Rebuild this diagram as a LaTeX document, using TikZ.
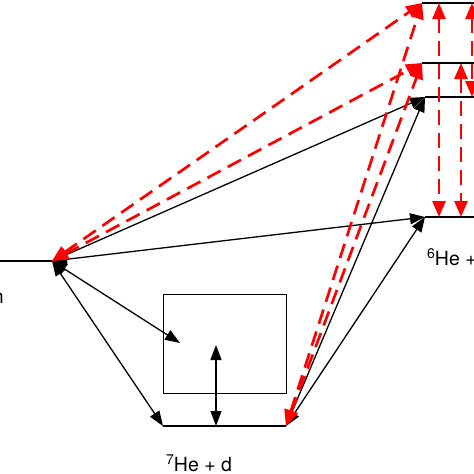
\documentclass[tikz,border=0pt]{standalone}
\usepackage{fontspec}
\setmainfont{TeX Gyre Heros}
\usetikzlibrary{arrows.meta}
\newcommand{\isot}[1]{{\fontsize{14}{14}\selectfont\raisebox{7pt}{#1}}}
\begin{document}
\begin{tikzpicture}[x=1pt,y=-1pt,
  lev/.style={line width=1.4pt},
  thicklev/.style={line width=2.4pt},
  blk/.style={line width=1.3pt,{Triangle[length=15pt,width=11pt]}-{Triangle[length=15pt,width=11pt]}},
  redarr/.style={draw=red,line width=2.7pt,dash pattern=on 15pt off 8pt,{Triangle[length=16pt,width=13pt]}-{Triangle[length=16pt,width=13pt]}},
  lbl/.style={font=\fontsize{19.5}{20}\selectfont,inner sep=0pt}]
\useasboundingbox (0,0) rectangle (474,474);
\clip (0,0) rectangle (474,474);
% levels
\coordinate (L0) at (-5,261);
\coordinate (L) at (52,261);
\coordinate (T1) at (422,3);   \coordinate (T1e) at (480,3);
\coordinate (T2) at (422,63);  \coordinate (T2e) at (480,63);
\coordinate (T3) at (425,97);  \coordinate (T3e) at (480,97);
\coordinate (T4) at (425,217); \coordinate (T4e) at (480,217);
\coordinate (B1) at (163,426); \coordinate (B2) at (286,426);
\coordinate (BX) at (180,343);
\coordinate (V1) at (216,345); \coordinate (V2) at (216,426);
\coordinate (Ra1) at (439,3);  \coordinate (Ra2) at (439,217);
\coordinate (Rb1) at (461,63); \coordinate (Rb2) at (461,217);
\coordinate (Rc1) at (472,3);  \coordinate (Rc2) at (472,97);
\draw[lev] (L0) -- (L);
\draw[thicklev] (T1) -- (T1e);
\draw[thicklev] (T2) -- (T2e);
\draw[lev] (T3) -- (T3e);
\draw[lev] (T4) -- (T4e);
\draw[lev] (B1) -- (B2);
\node[draw,line width=1.3pt,minimum width=123pt,minimum height=99pt,inner sep=0pt,anchor=north west] (box) at (163,294) {};
% black transitions
\draw[blk] (L) -- (T3);
\draw[blk] (L) -- (T4);
\draw[blk] (B2) -- (T3);
\draw[blk] (B2) -- (T4);
\draw[blk] (L) -- (BX);
\draw[blk] (L) -- (B1);
\draw[blk] (V1) -- (V2);
% red transitions
\draw[redarr] (L) -- (T1);
\draw[redarr] (L) -- (T2);
\draw[redarr] (B2) -- (T1);
\draw[redarr] (B2) -- (T2);
\draw[redarr] (Ra1) -- (Ra2);
\draw[redarr] (Rb1) -- (Rb2);
\draw[redarr] (Rc1) -- (Rc2);
% labels
\node[lbl,anchor=base west] (l7) at (166,471) {\isot{7}He + d};
\node[lbl,anchor=base west] (l6) at (427,265) {\isot{6}He + t};
\node[lbl,anchor=base east] (l8) at (4,303) {\isot{8}Li + n};
\end{tikzpicture}
\end{document}
